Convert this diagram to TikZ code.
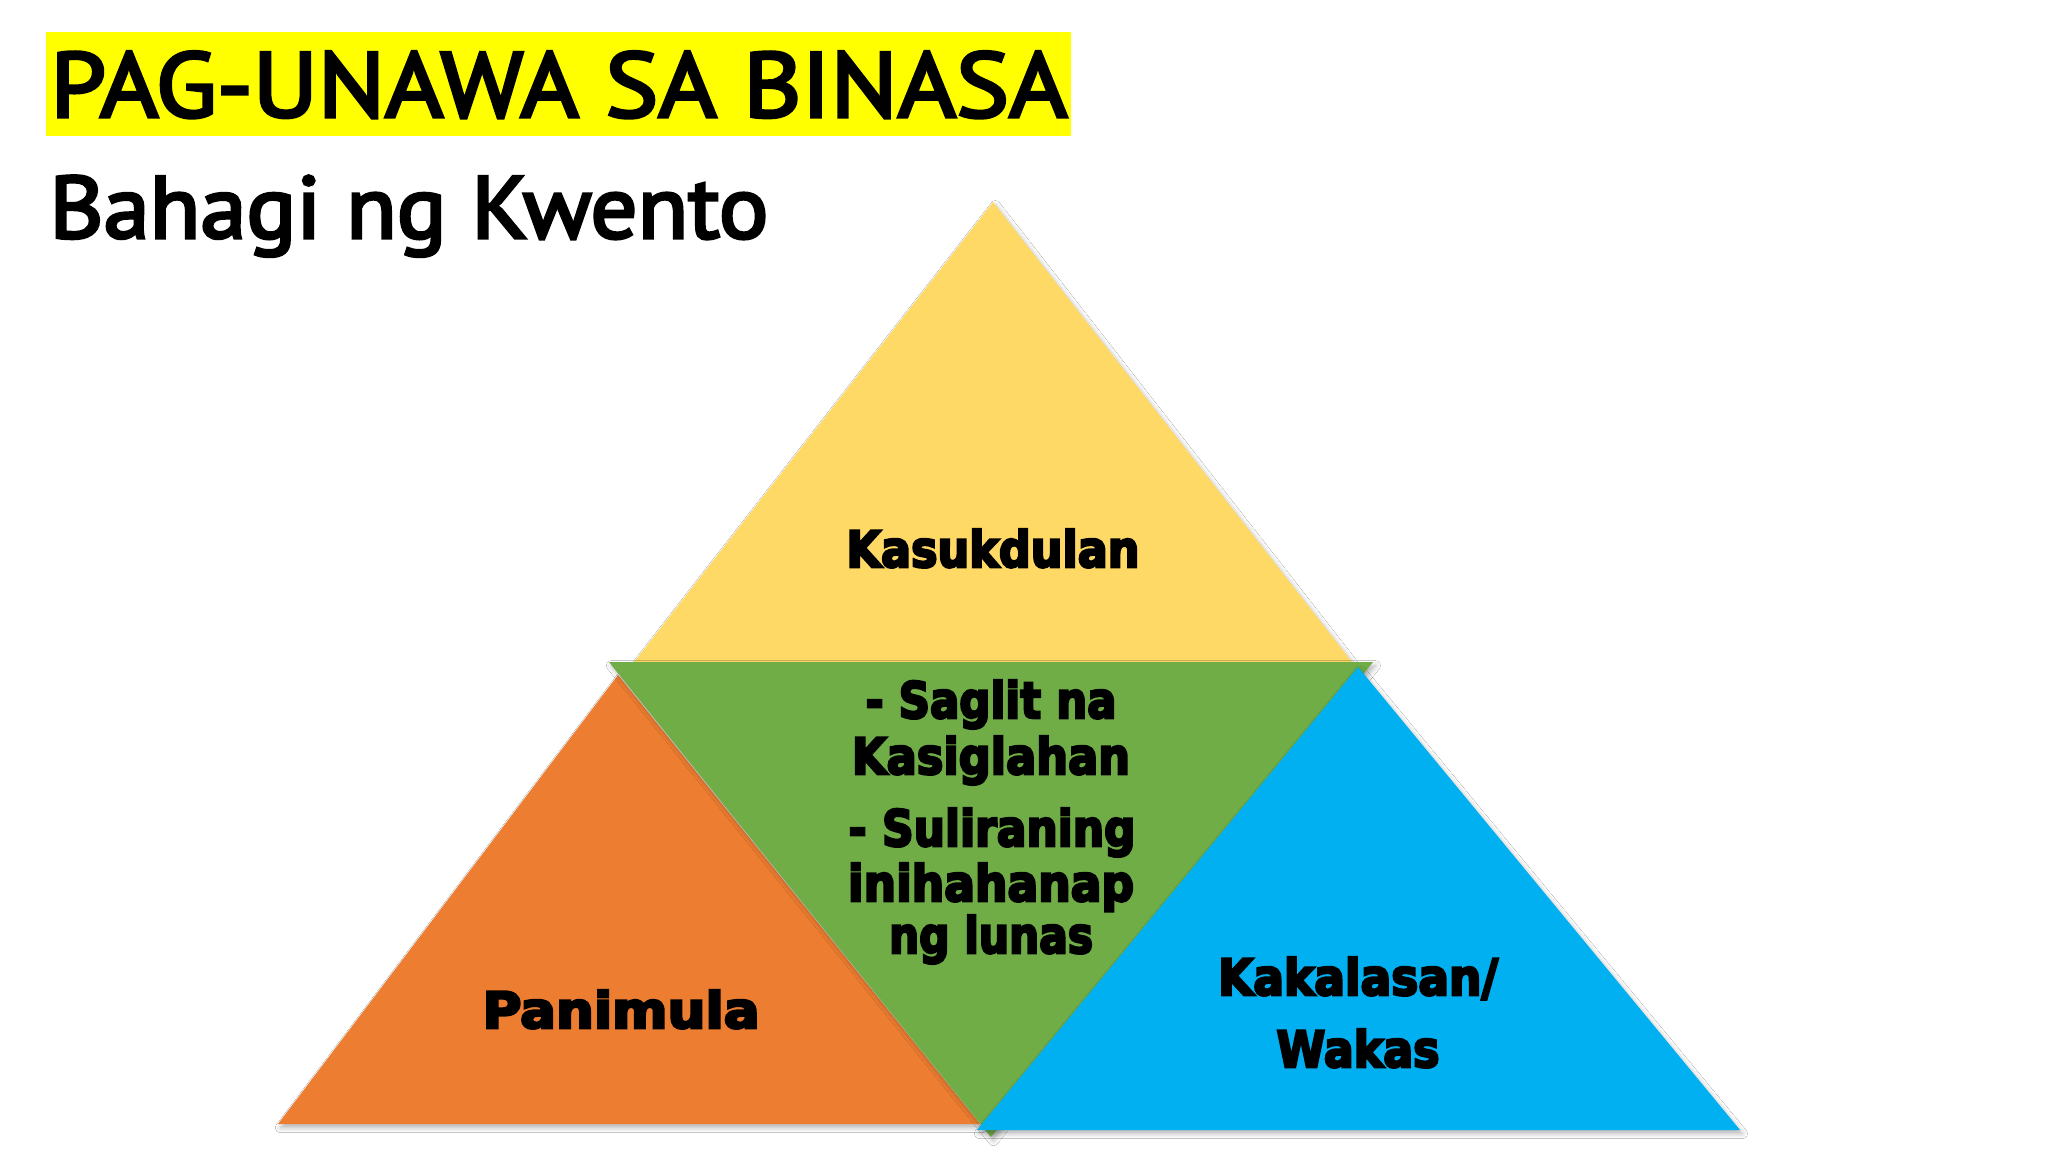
\documentclass[tikz,border=0pt]{standalone}
\usepackage{fontspec}
\usepackage{graphicx}
\usetikzlibrary{shadows.blur}
\newfontfamily\titlefont{PT Sans}[FakeBold=3.5]
\newfontfamily\labfont{DejaVu Sans}[FakeBold=5]
\definecolor{tyellow}{HTML}{FFD966}
\definecolor{torange}{HTML}{ED7D31}
\definecolor{tgreen}{HTML}{70AD47}
\definecolor{tblue}{HTML}{00B0F0}
\definecolor{hilite}{HTML}{FFFF00}
\newlength\px \setlength\px{0.5pt}
\newcommand\fitw[2]{\resizebox{#1\px}{\height}{#2}}
\tikzset{
  tri/.style={blur shadow={shadow xshift=1.2pt, shadow yshift=-1.8pt, shadow blur radius=2.5pt, shadow opacity=30}},
  lab/.style={anchor=base, inner sep=0pt, text=black, font=\labfont\bfseries\fontsize{25}{25}\selectfont},
  ttl/.style={anchor=base west, inner sep=0pt, text=black},
}
\begin{document}
\begin{tikzpicture}[x=0.5pt,y=-0.5pt]
\useasboundingbox (0,0) rectangle (2048,1152);
\fill[white] (0,0) rectangle (2048,1152);
% title
\fill[hilite] (46,32) rectangle (1071,136);
\node[ttl, font=\titlefont\fontsize{46}{46}\selectfont] (title) at (50,117) {\fitw{1017}{PAG-UNAWA SA BINASA}};
\node[ttl, font=\titlefont\fontsize{44}{44}\selectfont] (sub) at (49,238) {\fitw{719}{Bahagi ng Kwento}};
% triangles
\coordinate (yA) at (993,202);
\coordinate (yL) at (634,662);
\coordinate (yR) at (1352,662);
\coordinate (gL) at (609,662);
\coordinate (gR) at (1373,662);
\coordinate (gB) at (991,1137);
\coordinate (oA) at (618,675);
\coordinate (oL) at (278,1124);
\coordinate (oR) at (980,1124);
\coordinate (bA) at (1358,667);
\coordinate (bL) at (977,1130);
\coordinate (bR) at (1740,1130);
\fill[tyellow, tri] (yA) -- (yR) -- (yL) -- cycle;
\fill[torange, tri] (oA) -- (oR) -- (oL) -- cycle;
\fill[tgreen, tri] (gL) -- (gR) -- (gB) -- cycle;
\fill[tblue, tri] (bA) -- (bR) -- (bL) -- cycle;
% labels
\node[lab] (kas) at (993,567) {\fitw{293}{Kasukdulan}};
\node[lab] (pan) at (621,1028) {\fitw{277}{Panimula}};
\node[lab] (kak) at (1358,995) {\fitw{280}{Kakalasan/}};
\node[lab] (wak) at (1358,1067) {\fitw{163}{Wakas}};
\node[lab] (g1) at (991,718) {\fitw{251}{- Saglit na}};
\node[lab] (g2) at (991,774) {\fitw{278}{Kasiglahan}};
\node[lab] (g3) at (992,846) {\fitw{287}{- Suliraning}};
\node[lab] (g4) at (991,901) {\fitw{286}{inihahanap}};
\node[lab] (g5) at (991,953) {\fitw{204}{ng lunas}};
\end{tikzpicture}
\end{document}
